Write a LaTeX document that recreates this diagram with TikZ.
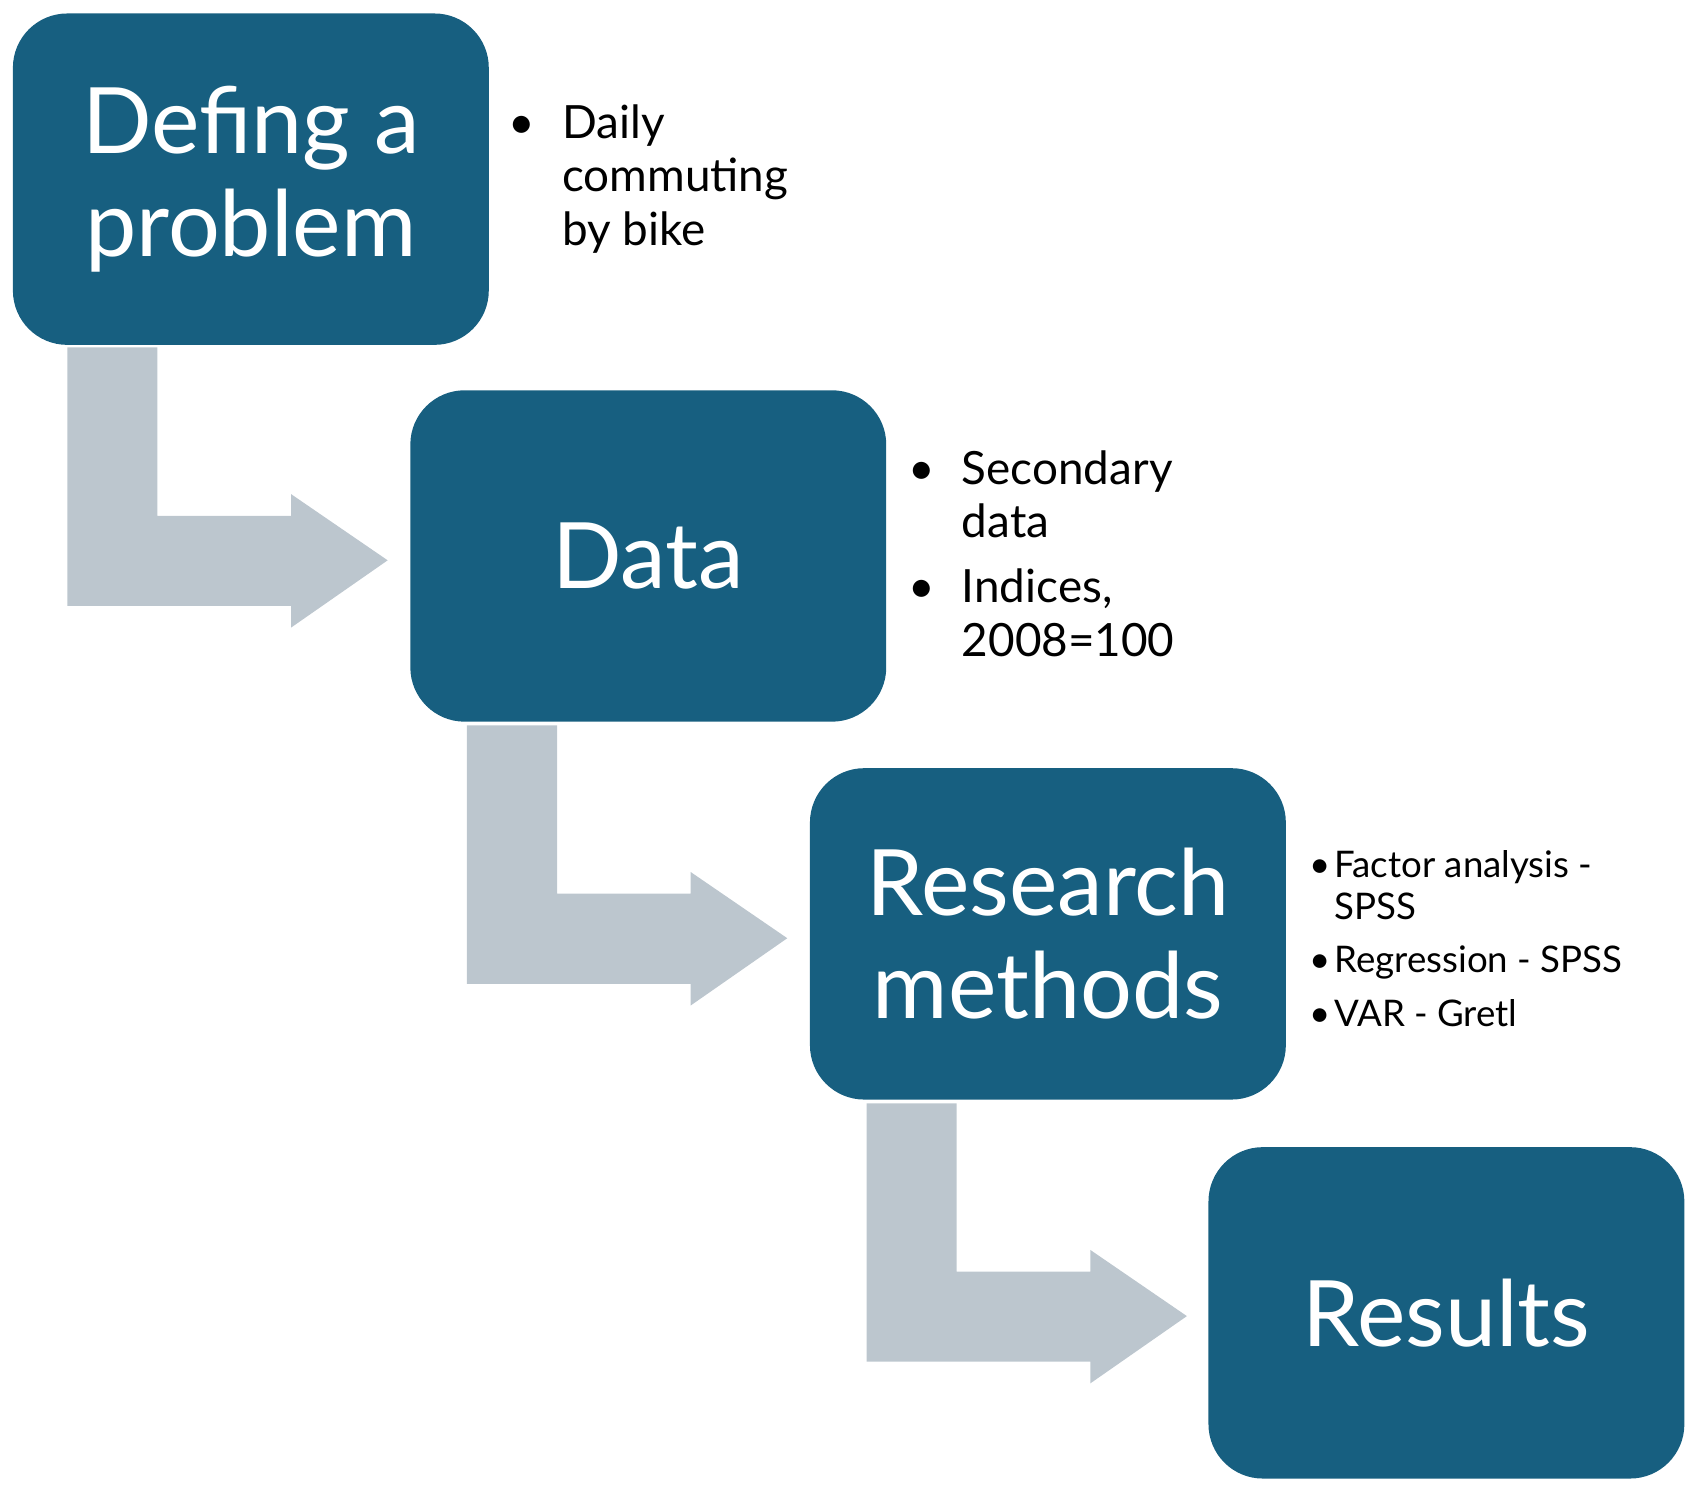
\documentclass[tikz,border=0pt]{standalone}
\usepackage{fontspec}
\setmainfont{Lato}
\definecolor{boxblue}{HTML}{175F80}
\definecolor{arrowgray}{HTML}{BCC6CE}
\begin{document}
\begin{tikzpicture}
	[x=0.01cm, y=-0.01cm,
	stage/.style={rectangle,rounded corners=0.5cm,fill=boxblue,text=white,
		minimum width=4.38cm,minimum height=3.05cm,align=center,
		font=\fontsize{24}{27}\selectfont},
	notes/.style={anchor=north west,inner sep=0pt,align=left,
		font=\fontsize{12}{14}\selectfont},
	smallnotes/.style={notes,font=\fontsize{9.6}{11}\selectfont}]
	\useasboundingbox (0,0) rectangle (1560,1370);
	% bent arrows
	\foreach \i in {0,1,2}
		\fill [arrowgray, shift={(368*\i,348*\i)}] (62,320) -- (145,320) -- (145,475)
			-- (268,475) -- (268,455) -- (357,516) -- (268,578) -- (268,558)
			-- (62,558) -- cycle;
	\node (problem) [stage] at (231,165) {Defing a\\problem};
	\node (data) [stage] at (597,512) {Data};
	\node (methods) [stage] at (965,860) {Research\\methods};
	\node (results) [stage] at (1332,1209) {Results};
	\node (problemnotes) [notes] at (468,92)
		{\begin{tabular}{@{}l@{\hspace{7pt}}l@{}}\textbullet & Daily\\ & commuting\\ & by bike\end{tabular}};
	\node (datanotes) [notes] at (836,411)
		{\begin{tabular}{@{}l@{\hspace{7pt}}l@{}}\textbullet & Secondary\\ & data\\[3pt]
		\textbullet & Indices,\\ & 2008=100\end{tabular}};
	\node (methodsnotes) [smallnotes] at (1205,780)
		{\begin{tabular}{@{}l@{\hspace{1pt}}l@{}}\textbullet & Factor analysis -\\ & SPSS\\[3pt]
		\textbullet & Regression - SPSS\\[3pt]
		\textbullet & VAR - Gretl\end{tabular}};
\end{tikzpicture}
\end{document}
